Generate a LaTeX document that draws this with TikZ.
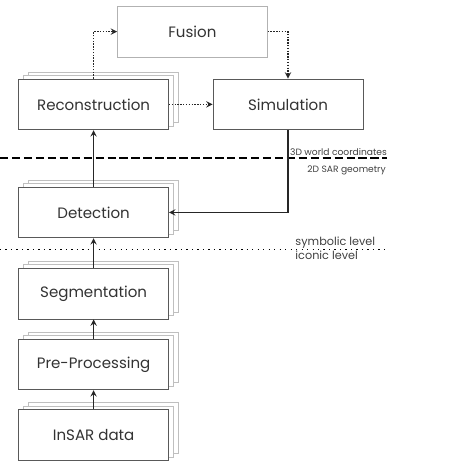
\documentclass[tikz,border=0pt]{standalone}
\usepackage{fontspec}
\setmainfont{Poppins}
\usetikzlibrary{shadows}

\begin{document}
\begin{tikzpicture}[>=stealth,scale=1.0,
    stage/.style={draw=black!65,line width=0.6pt,fill=white,minimum width=3.75cm,minimum height=1.27cm,font=\fontsize{10.7}{12}\selectfont,text=black!80},
    stack/.style={stage,double copy shadow={shadow xshift=3.5pt,shadow yshift=2.5pt,draw=black!25,fill=white}},
    flow/.style={->,line width=1pt,black!85},
    link/.style={->,line width=1pt,black!85,densely dotted},
    note/.style={font=\fontsize{6.5}{8}\selectfont,text=black!75,inner sep=0pt}]
                        \useasboundingbox (0,0) rectangle (11.85,11.85);

                        \node[stage,draw=black!30,line width=0.4pt] (fusion) at(4.81,11.06) {Fusion};
                        \node[stack] (recon) at(2.34,9.24) {Reconstruction};
                        \node[stage] (sim) at(7.2,9.24) {Simulation};
                        \node[stack] (det) at(2.34,6.54) {Detection};
                        \node[stack] (seg) at(2.34,4.51) {Segmentation};
                        \node[stack] (pre) at(2.34,2.74) {Pre-Processing};
                        \node[stack] (insar) at(2.34,0.97) {InSAR data};

                        % level borders
                        \draw[line width=0.9pt,dash pattern=on 6pt off 2.5pt] (0,7.9)--(9.68,7.9);
                        \draw[line width=0.9pt,dash pattern=on 0.9pt off 3pt] (0,5.62)--(9.68,5.62);
                        \node[note,anchor=base east] (world) at(9.68,7.96) {3D world coordinates};
                        \node[note,anchor=base east] (sar) at(9.65,7.55) {2D SAR geometry};
                        \node[note,font=\fontsize{8}{10}\selectfont,anchor=base west] (symb) at(7.38,5.72) {symbolic level};
                        \node[note,font=\fontsize{8}{10}\selectfont,anchor=base west] (icon) at(7.38,5.35) {iconic level};

                        \draw[link] (recon.north) |- (fusion.west);
                        \draw[link] (fusion.east) -| (sim.north);
                        \draw[link] (recon.east)--(sim.west);
                        \draw[flow] (sim.south) |- (det.east);
                        \draw[flow] (det.north)--(recon.south);
                        \draw[flow] (seg.north)--(det.south);
                        \draw[flow] (pre.north)--(seg.south);
                        \draw[flow] (insar.north)--(pre.south);
                    \end{tikzpicture}
\end{document}
